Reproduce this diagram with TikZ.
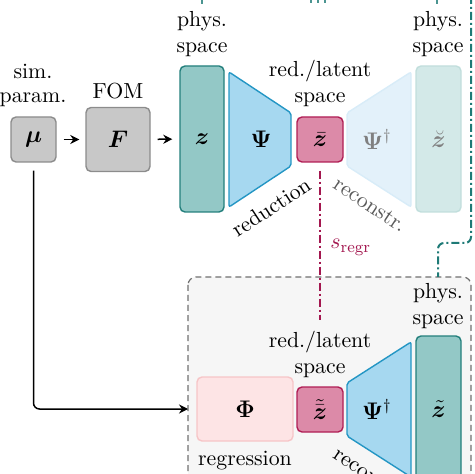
\documentclass[tikz,border=0pt]{standalone}
\usepackage{amsmath,bm}
\usetikzlibrary{arrows.meta}
\definecolor{grayf}{HTML}{C8C8C8}
\definecolor{grayd}{HTML}{8C8C8C}
\definecolor{tealf}{HTML}{93C8C6}
\definecolor{teald}{HTML}{237F7C}
\definecolor{bluef}{HTML}{A6D8F0}
\definecolor{blued}{HTML}{2496C4}
\definecolor{pinkf}{HTML}{DC8AA8}
\definecolor{pinkd}{HTML}{B01E55}
\definecolor{fbluef}{HTML}{E3F1FA}
\definecolor{fblued}{HTML}{D8ECF8}
\definecolor{ftealf}{HTML}{D3E9E8}
\definecolor{fteald}{HTML}{C1DEDC}
\definecolor{phif}{HTML}{FDE4E5}
\definecolor{phid}{HTML}{F6C5C7}
\definecolor{boxf}{HTML}{F6F6F6}
\definecolor{boxd}{HTML}{707070}
\definecolor{crim}{HTML}{A3174F}
\definecolor{dteal}{HTML}{1E7A76}
\tikzset{
  bx/.style={draw, rounded corners=2.5pt, line width=0.7pt, inner sep=0pt, font=\fontsize{12}{14}\selectfont},
  graybox/.style={bx, fill=grayf, draw=grayd},
  tealbox/.style={bx, fill=tealf, draw=teald},
  pinkbox/.style={bx, fill=pinkf, draw=pinkd},
  fadetealbox/.style={bx, fill=ftealf, draw=fteald},
  phibox/.style={bx, fill=phif, draw=phid},
  bluetrap/.style={fill=bluef, draw=blued, line width=0.7pt, rounded corners=1pt},
  fadetrap/.style={fill=fbluef, draw=fblued, line width=0.7pt, rounded corners=1pt},
  trapsym/.style={font=\fontsize{12}{14}\selectfont},
  arr/.style={-{Stealth[length=4.5pt,width=4.5pt]}, line width=0.75pt},
  lbl/.style={anchor=base, inner sep=0pt},
}
\begin{document}
\begin{tikzpicture}[x=0.5pt,y=-0.5pt,font=\fontsize{10.9}{13}\selectfont]
\useasboundingbox (0,0) rectangle (474,474);
\clip (0,0) rectangle (474,474);

% dashed surrogate box
\draw[fill=boxf, draw=boxd, dashed, dash pattern=on 3pt off 2pt, line width=0.6pt, rounded corners=4pt] (188,277) rectangle (471,530);
\coordinate (dboxw) at (188,409);
\coordinate (dboxtop) at (438,277);

% top row
\node[graybox, minimum width=22.5pt, minimum height=22.5pt] (mu) at (33.5,139.5) {$\bm{\mu}$};
\node[graybox, minimum width=32pt, minimum height=32pt] (F) at (118,139.5) {$\bm{F}$};
\node[tealbox, minimum width=22pt, minimum height=73pt] (z) at (202,139) {$\bm{z}$};
\draw[bluetrap] (229,72) -- (291,113) -- (291,166) -- (229,207) -- cycle;
\node[trapsym] (psi) at (261,139.5) {$\bm{\Psi}$};
\node[pinkbox, minimum width=23pt, minimum height=22.5pt] (zbar) at (320,139.5) {$\bar{\bm{z}}$};
\draw[fadetrap] (347,113) -- (411,72) -- (411,207) -- (347,166) -- cycle;
\node[trapsym, text=black!50] (psid) at (377,139.5) {$\bm{\Psi}^\dagger$};
\node[fadetealbox, minimum width=22.5pt, minimum height=73pt, text=black!50] (zbreve) at (438.5,139) {$\breve{\bm{z}}$};

\node[lbl] (lsim) at (33,79) {sim.};
\node[lbl] (lparam) at (33,103) {param.};
\node[lbl] (lfom) at (118,99) {FOM};
\node[lbl] (lphys1) at (202,27) {phys.};
\node[lbl] (lspace1) at (202,53) {space};
\node[lbl] (lred1) at (320,77) {red./latent};
\node[lbl] (lspace2) at (320,103) {space};
\node[lbl] (lphys2) at (438,27) {phys.};
\node[lbl] (lspace3) at (438,53) {space};
\node[rotate=33.5] (lreduction) at (271,207) {reduction};
\node[rotate=-33.5, text=black!65] (lreconstr) at (370,205) {reconstr.};

\draw[arr, shorten <=3.5pt, shorten >=3pt] (mu) -- (F);
\draw[arr, shorten <=3.5pt, shorten >=3.5pt] (F) -- (z);

% regression link
\coordinate (sregrend) at (320,320);
\draw[crim, line width=0.75pt, dash pattern=on 4pt off 1.5pt on 1pt off 1.5pt] ([yshift=-4pt]zbar.south) -- (sregrend);
\node[text=crim, anchor=base west, inner sep=0pt] (lsregr) at (330,249) {$s_{\mathrm{regr}}$};

% teal link on the right
\draw[dteal, line width=1pt, dash pattern=on 4pt off 1.5pt on 1pt off 1.5pt, rounded corners=3pt] (471,-4) -- (471,243) -- (438,243) -- (dboxtop);

% fragments at the top edge
\draw[dteal!80, line width=0.8pt] (202,-3) -- (202,4);
\draw[dteal!80, line width=0.8pt] (437,-3) -- (437,4);
\foreach \xx in {311,318,325} \draw[dteal!80, line width=1.2pt] (\xx,-3) -- (\xx,3);

% bottom row
\node[phibox, minimum width=48pt, minimum height=32pt] (Phi) at (245,409) {$\bm{\Phi}$};
\node[pinkbox, minimum width=23pt, minimum height=22.5pt] (zreg) at (320,409.5) {$\tilde{\bar{\bm{z}}}$};
\draw[bluetrap] (347,383) -- (411,342) -- (411,477) -- (347,436) -- cycle;
\node[trapsym] (psid2) at (377,409.5) {$\bm{\Psi}^\dagger$};
\node[tealbox, minimum width=22.5pt, minimum height=73pt] (ztilde) at (438.5,409) {$\tilde{\bm{z}}$};

\node[lbl] (lred2) at (320,347) {red./latent};
\node[lbl] (lspace4) at (320,373) {space};
\node[lbl] (lphys3) at (438,299) {phys.};
\node[lbl] (lspace5) at (438,324) {space};
\node[lbl] (lregression) at (245,465) {regression};
\node[rotate=-33.5] (lreconstr2) at (370,475) {reconstr.};

\draw[arr, rounded corners=3pt] ([yshift=-4pt]mu.south) |- (dboxw);
\end{tikzpicture}
\end{document}
